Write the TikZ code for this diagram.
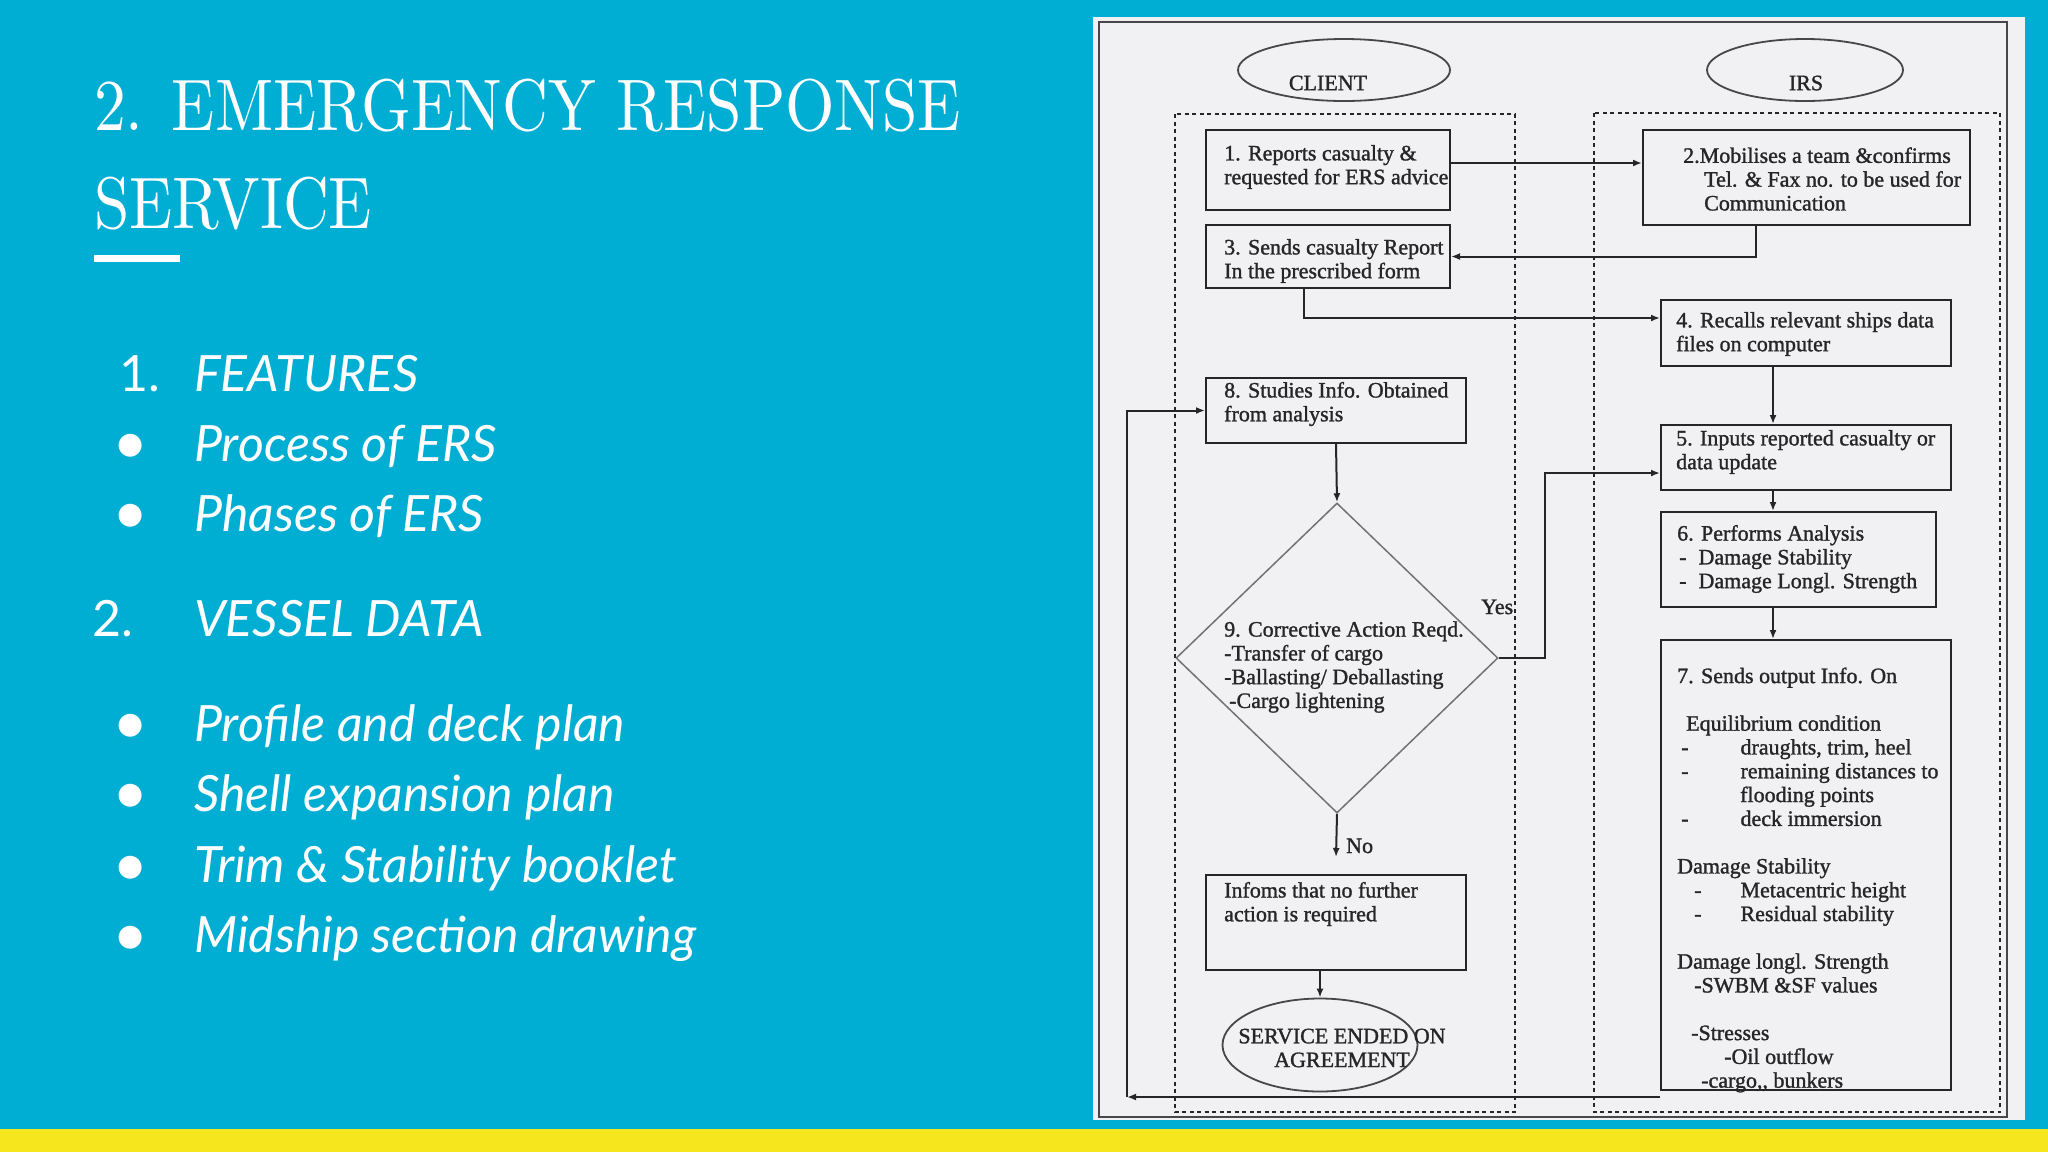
\documentclass[tikz,border=0pt]{standalone}
\usepackage{fontspec}
\setmainfont{Liberation Serif}
\newfontfamily\chartfont[FakeBold=1.3]{Liberation Serif}
\newfontfamily\titlefont[FakeStretch=0.87]{lmroman10-regular.otf}
\newfontfamily\listfont{Lato}
\newfontfamily\symbolfont{DejaVu Sans}
\usetikzlibrary{shapes.geometric,arrows.meta}
\definecolor{slidecyan}{RGB}{0,173,211}
\definecolor{slideyellow}{RGB}{246,230,30}
\definecolor{paper}{RGB}{241,241,243}
\definecolor{ink}{RGB}{38,38,38}

\begin{document}
\begin{tikzpicture}
[x=1pt,y=-1pt,
  stepbox/.style={shape=rectangle,draw=ink,line width=2pt,inner sep=0pt},
  choicebox/.style={shape=diamond,draw=ink!65,line width=1.5pt,inner sep=0pt},
  ovalbox/.style={shape=ellipse,draw=ink!85,line width=1.8pt,inner sep=0pt},
  lanebox/.style={draw=ink,line width=1.4pt,dash pattern=on 4pt off 3.5pt},
  boxtext/.style={anchor=west,align=left,inner sep=0pt,text=ink,
    font=\chartfont\fontsize{22}{23.8}\selectfont},
  flowline/.style={draw=ink,line width=2pt,-{Latex[length=9pt,width=7pt]}},
  titletext/.style={anchor=base west,inner sep=0pt,text=white,
    font=\titlefont\fontsize{73}{80}\selectfont},
  listtext/.style={anchor=base west,inner sep=0pt,text=white,
    font=\listfont\itshape\fontsize{50}{60}\selectfont},
  listnum/.style={anchor=base west,inner sep=0pt,text=white,
    font=\listfont\fontsize{50}{60}\selectfont},
  listdot/.style={inner sep=0pt,text=white,font=\symbolfont\fontsize{30}{30}\selectfont}]
\fill[slidecyan] (0,0) rectangle (2048,1152);
\useasboundingbox (0,0) rectangle (2048,1152);
\fill[slideyellow] (0,1129) rectangle (2048,1152);

%% title and list
\node (title1) at (94,130) [titletext] {2. EMERGENCY RESPONSE};
\node (title2) at (94,228) [titletext] {SERVICE};
\fill[white] (94,255) rectangle (180,262);
\node (num1) at (119,391.5) [listnum] {1.};
\node (features) at (194,391.5) [listtext] {FEATURES};
\node (num2) at (92,636) [listnum] {2.};
\node (vessel) at (194,636) [listtext] {VESSEL DATA};
\foreach \itemname/\y/\itemtext in {
  process/461/Process of ERS, phases/531/Phases of ERS,
  profile/741/Profile and deck plan, shell/811/Shell expansion plan,
  trim/882.6/Trim \& Stability booklet, midship/952.7/Midship section drawing} {
  \node (\itemname) at (194,\y) [listtext] {\itemtext};
  \node (\itemname-dot) at (131,\y-15) [listdot] {●};
}

%% the flow chart panel
\fill[paper] (1093,17) rectangle (2025,1120);
\draw[ink!85,line width=1.8pt] (1099,22) rectangle (2007,1117);
\draw[lanebox] (1175,114) rectangle (1515,1112);
\draw[lanebox] (1594,113) rectangle (2000,1112);

%% nodes
\node (client) at (1344,70) [ovalbox,minimum width=212pt,minimum height=62pt] {};
\node (irs) at (1805,70) [ovalbox,minimum width=196pt,minimum height=62pt] {};
\node (ended) at (1320,1045) [ovalbox,minimum width=195pt,minimum height=93pt] {};
\node (ask) at (1337,658) [choicebox,minimum width=322pt,minimum height=310pt] {};
\foreach \boxname/\x/\y/\w/\h in {
  box1/1328/170/244/80, box2/1806.5/177.5/327/95, box3/1328/256.5/244/63,
  box4/1806/333/290/66, box8/1336/410.5/260/65, box5/1806/457.5/290/65,
  box6/1798.5/559.5/275/95, box7/1806/865/290/450, noaction/1336/922.5/260/95} {
  \node (\boxname) at (\x,\y) [stepbox,minimum width=\w pt,minimum height=\h pt] {};
}

%% texts
\node (clienttext) at (1328,83) [boxtext,anchor=center] {CLIENT};
\node (irstext) at (1806,83) [boxtext,anchor=center] {IRS};
\node (box1text) at (1224,167) [boxtext] {1. Reports casualty \&\\requested for ERS advice};
\node (box2text) at (1683,179) [boxtext] {2.Mobilises a team \&confirms\\
  \hspace*{21pt}Tel. \& Fax no. to be used for\\\hspace*{21pt}Communication};
\node (box3text) at (1224,261) [boxtext] {3. Sends casualty Report\\In the prescribed form};
\node (box4text) at (1676,334) [boxtext] {4. Recalls relevant ships data\\files on computer};
\node (box8text) at (1224,404) [boxtext] {8. Studies Info. Obtained\\from analysis};
\node (box5text) at (1676,452) [boxtext] {5. Inputs reported casualty or\\data update};
\node (box6text) at (1677,559) [boxtext] {6. Performs Analysis\\
  \hspace*{2pt}-\hspace*{12pt}Damage Stability\\\hspace*{2pt}-\hspace*{12pt}Damage Longl. Strength};
\node (asktext) at (1224,667) [boxtext] {9. Corrective Action Reqd.\\-Transfer of cargo\\
  -Ballasting/ Deballasting\\\hspace*{5pt}-Cargo lightening};
\node (noactiontext) at (1224,904) [boxtext] {Infoms that no further\\action is required};
\node (box7text) at (1677,880) [boxtext] {7. Sends output Info. On\\~\\
  \hspace*{9pt}Equilibrium condition\\
  \hspace*{4pt}-\hspace*{52pt}draughts, trim, heel\\
  \hspace*{4pt}-\hspace*{52pt}remaining distances to\\
  \hspace*{63pt}flooding points\\
  \hspace*{4pt}-\hspace*{52pt}deck immersion\\~\\
  Damage Stability\\
  \hspace*{17pt}-\hspace*{39pt}Metacentric height\\
  \hspace*{17pt}-\hspace*{39pt}Residual stability\\~\\
  Damage longl. Strength\\
  \hspace*{17pt}-SWBM \&SF values\\~\\
  \hspace*{14pt}-Stresses\\
  \hspace*{47pt}-Oil outflow\\
  \hspace*{24pt}-cargo,, bunkers};
\node (endedtext) at (1342,1048) [boxtext,anchor=center,align=center] {SERVICE ENDED ON\\AGREEMENT};
\node (yes) at (1481,614) [boxtext,anchor=base west] {Yes};
\node (no) at (1346,853) [boxtext,anchor=base west] {No};

%% connectors
\coordinate (loopback) at (1127,1097);
\draw[flowline] (box1.east |- 0,163) -- (box2.west |- 0,163);
\draw[flowline] (box2.south -| 1756,0) |- (box3.east);
\draw[flowline] (box3.south -| 1304,0) |- (box4.west |- 0,318);
\draw[flowline] (box4.south -| 1773,0) -- (box5.north -| 1773,0);
\draw[flowline] (box5.south -| 1773,0) -- (box6.north -| 1773,0);
\draw[flowline] (box6.south -| 1773,0) -- (box7.north -| 1773,0);
\draw[flowline] (box8.south) -- (ask.north);
\draw[flowline] (ask.east) -- (ask.east -| 1545,0) |- (box5.west |- 0,473);
\draw[flowline] (ask.south) -- (noaction.north |- 0,857);
\draw[flowline] (noaction.south -| ended) -- (ended.north);
\draw[flowline] (box7.west |- loopback) -- (loopback);
\draw[flowline] (loopback) |- (box8.west);
\end{tikzpicture}
\end{document}
